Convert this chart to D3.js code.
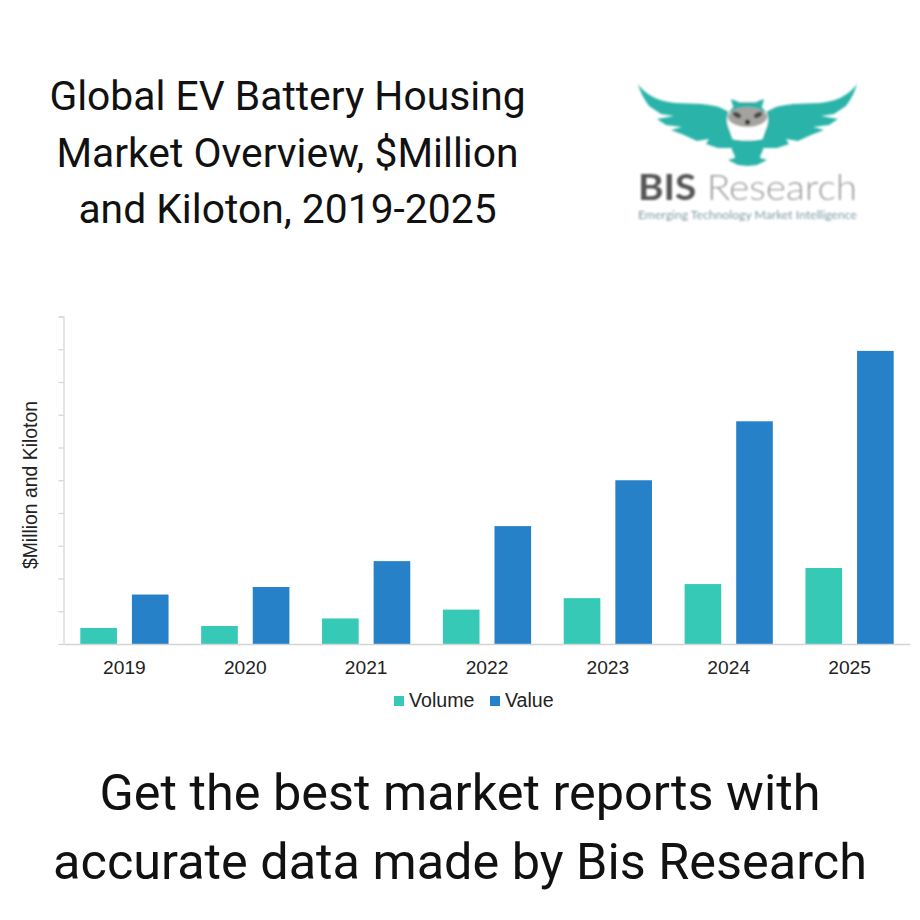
<!DOCTYPE html>
<html>
<head>
<meta charset="utf-8">
<script src="https://cdn.jsdelivr.net/npm/d3@7"></script>
<style>html,body{margin:0;padding:0;background:#fff}svg{display:block}</style>
</head>
<body>
<svg id="c" width="920" height="920"></svg>
<script>
const titleLines = ["Global EV Battery Housing", "Market Overview, $Million", "and Kiloton, 2019-2025"];
const footerLines = ["Get the best market reports with", "accurate data made by Bis Research"];
const categories = ["2019","2020","2021","2022","2023","2024","2025"];
const seriesNames = ["Volume","Value"];
const volumeValues = [4.9,5.5,7.8,10.5,14,18.3,23.2];
const valueValues = [15.1,17.4,25.3,36,50,68,89.5];
const yTicks = [0,10,20,30,40,50,60,70,80,90,100];
const colors = ["#36c9b6","#2781c8"];

const svg = d3.select("#c");
svg.append("rect").attr("width",920).attr("height",920).attr("fill","#fff");
const defs = svg.append("defs");
defs.append("filter").attr("id","soft").append("feGaussianBlur").attr("stdDeviation",0.9);

svg.append("g").selectAll("text").data(titleLines).join("text")
  .attr("x",287.5).attr("y",(d,i)=>[110,166.5,223][i])
  .attr("text-anchor","middle").attr("font-family","Roboto").attr("font-size",40.8).attr("fill","#111")
  .text(d=>d);
svg.append("g").selectAll("text").data(footerLines).join("text")
  .attr("x",460).attr("y",(d,i)=>[810,879][i])
  .attr("text-anchor","middle").attr("font-family","Roboto").attr("font-size",50.4).attr("fill","#111")
  .text(d=>d);

// Logo
const logo = svg.append("g").attr("filter","url(#soft)");
const wing = "M638,84 C643,91 649,95 655,98 C662,101 668,102 675,103 L702,104 C710,105 716,106 719,107 L729,112 L728,124 L731,135 L735,148 L718,148 L706,144 L709,139 L697,141 L684,135 L671,130 L682,127 L666,125 L657,119 L674,116 L661,114 L649,106 C644,99 640,92 638,84 Z";
[0,1].forEach(m=>logo.append("path").attr("d",wing).attr("fill","#2bb3a8")
  .attr("transform",m?"translate(1495,0) scale(-1,1)":null));
logo.append("circle").attr("cx",747.5).attr("cy",120).attr("r",20.5).attr("fill","#fff");
logo.append("path").attr("d","M731,139 C738,141 757,141 764,139 L763,150 C761,154 760,156 760,158 L767,160 L757,165 L747.5,166 L738,165 L728,160 L735,158 C735,156 734,154 732,150 Z").attr("fill","#2bb3a8");
logo.append("path").attr("d","M731,99 L739,102 L756,102 L764,99 L762,107 L766,112 L729,112 L733,107 Z").attr("fill","#2bb3a8");
logo.append("ellipse").attr("cx",747.5).attr("cy",117).attr("rx",19.5).attr("ry",10).attr("fill","#a5a3a0");
[[737,115,30],[758,115,-30]].forEach(e=>logo.append("ellipse").attr("cx",e[0]).attr("cy",e[1]).attr("rx",4.5).attr("ry",2.5).attr("fill","#4a4a4a").attr("transform",`rotate(${e[2]} ${e[0]} ${e[1]})`));
logo.append("circle").attr("cx",747.5).attr("cy",122).attr("r",2.6).attr("fill","#333");
const logoText = logo.append("text").attr("x",638).attr("y",200).attr("font-family","Lato").attr("font-size",36)
  .attr("textLength",219).attr("lengthAdjust","spacingAndGlyphs");
logoText.append("tspan").attr("font-weight",700).attr("fill","#555").text("BIS");
logoText.append("tspan").attr("font-weight",300).attr("fill","#9c9c9c").text(" Research");
logo.append("text").attr("x",638).attr("y",218.5).attr("font-family","Lato").attr("font-size",10.5)
  .attr("fill","#7d9ba6").attr("textLength",219).attr("lengthAdjust","spacingAndGlyphs")
  .text("Emerging Technology Market Intelligence");

// Chart
const x0 = d3.scaleBand().domain(categories).range([64,910]).paddingInner(0.27).paddingOuter(0.135);
const x1 = d3.scaleBand().domain(seriesNames).range([0,x0.bandwidth()]).paddingInner(0.29);
const y = d3.scaleLinear().domain([0,100]).range([644,316.5]);
const rows = categories.map((c,i)=>({c,vals:[volumeValues[i],valueValues[i]]}));

const g = svg.append("g");
g.selectAll("g.cat").data(rows).join("g").attr("class","cat")
  .attr("transform",d=>`translate(${x0(d.c)},0)`)
  .selectAll("rect").data(d=>d.vals.map((v,i)=>({v,s:seriesNames[i],col:colors[i]}))).join("rect")
  .attr("x",d=>x1(d.s)).attr("width",x1.bandwidth())
  .attr("y",d=>y(d.v)).attr("height",d=>y(0)-y(d.v)).attr("fill",d=>d.col);

const yAxis = g.append("g").attr("transform","translate(63.5,0)")
  .call(d3.axisLeft(y).tickValues(yTicks).tickSize(5).tickFormat(""));
const xAxis = g.append("g").attr("transform","translate(0,644)")
  .call(d3.axisBottom(x0).tickSize(0).tickPadding(16.3));
yAxis.selectAll("path,line").attr("stroke","#d4d4d4").attr("stroke-width",1.2);
xAxis.select("path").attr("stroke","#d4d4d4").attr("stroke-width",1.5);
xAxis.selectAll("text").attr("font-family","Liberation Sans").attr("font-size",19.2).attr("fill","#222");

svg.append("text").attr("transform","translate(36.5,485) rotate(-90)")
  .attr("text-anchor","middle").attr("font-family","Liberation Sans").attr("font-size",19.4).attr("fill","#222")
  .text("$Million and Kiloton");

const lx = [394,490];
const leg = svg.append("g").selectAll("g").data(seriesNames).join("g")
  .attr("transform",(d,i)=>`translate(${lx[i]},696)`);
leg.append("rect").attr("width",10).attr("height",10).attr("fill",(d,i)=>colors[i]);
leg.append("text").attr("x",15).attr("y",11).attr("font-family","Liberation Sans").attr("font-size",19.6).attr("fill","#222").text(d=>d);
</script>
</body>
</html>
